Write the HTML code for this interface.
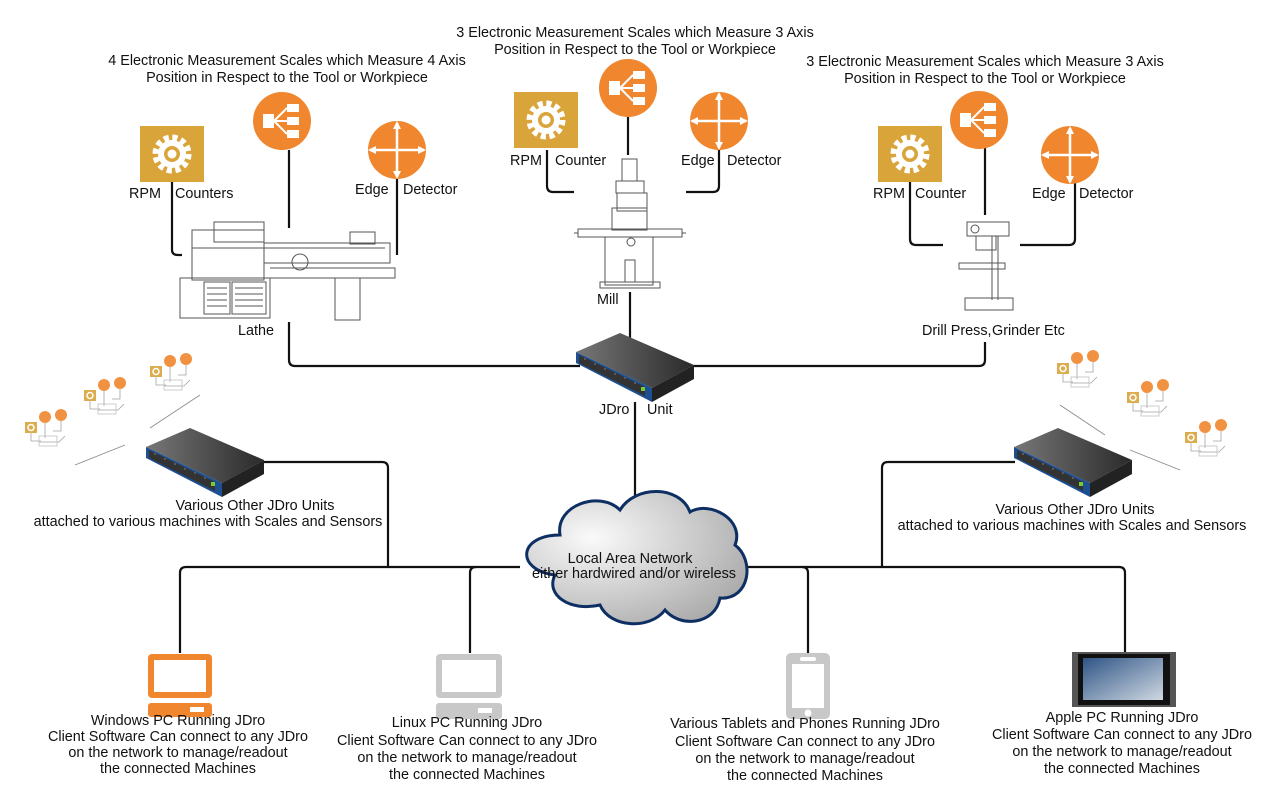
<!DOCTYPE html>
<html><head><meta charset="utf-8"><style>
html,body{margin:0;padding:0;background:#fff;}
svg{display:block;}
text{font-family:"Liberation Sans",Arial,sans-serif;font-size:14.4px;fill:#111;}
</style></head><body>
<svg width="1280" height="800" viewBox="0 0 1280 800" xmlns="http://www.w3.org/2000/svg">
<defs>
<linearGradient id="top" x1="0" y1="0" x2="1" y2="0"><stop offset="0" stop-color="#777"/><stop offset="1" stop-color="#2a2a2a"/></linearGradient>
<radialGradient id="cl" cx="0.3" cy="0.35" r="0.8"><stop offset="0" stop-color="#fafafa"/><stop offset="1" stop-color="#a9a9a9"/></radialGradient>
<linearGradient id="scr" x1="0" y1="0" x2="1" y2="1"><stop offset="0" stop-color="#2f5586"/><stop offset="1" stop-color="#cfd8e2"/></linearGradient>
<g id="gear">
<rect x="0" y="0" width="64" height="56" fill="#d9a43a"/>
<circle cx="32" cy="28" r="16" fill="none" stroke="#fff" stroke-width="7" stroke-dasharray="5 3.4"/>
<circle cx="32" cy="28" r="14" fill="#fff"/>
<circle cx="32" cy="28" r="8" fill="#d9a43a"/>
<circle cx="32" cy="28" r="4.5" fill="#fff"/>
</g>
<g id="scale">
<circle cx="0" cy="0" r="29" fill="#f0862e"/>
<rect x="-19" y="-7" width="11" height="14" fill="#fff"/>
<rect x="5" y="-17" width="12" height="8" fill="#fff"/>
<rect x="5" y="-4" width="12" height="8" fill="#fff"/>
<rect x="5" y="9" width="12" height="8" fill="#fff"/>
<path d="M-8 0 L5 -13 M-8 0 L5 0 M-8 0 L5 13" stroke="#fff" stroke-width="2"/>
</g>
<g id="edge">
<circle cx="0" cy="0" r="29" fill="#f0862e"/>
<path d="M0 -27 V27 M-27 0 H27" stroke="#fff" stroke-width="2.5"/>
<path d="M0 -29 l-4 8 h8z M0 29 l-4 -8 h8z M-29 0 l8 -4 v8z M29 0 l-8 -4 v8z" fill="#fff"/>
</g>
<g id="sw">
<polygon points="1,20 45,1 119,33 77,56" fill="url(#top)"/>
<polygon points="77,56 119,33 119,47 77,70" fill="#222"/>
<polygon points="1,20 77,56 77,70 1,31" fill="#1d4f93"/>
<polygon points="4,23 70,55 70,64 4,31" fill="#333"/>
<g fill="#666"><circle cx="10" cy="27" r="1"/><circle cx="20" cy="32" r="1"/><circle cx="30" cy="37" r="1"/><circle cx="40" cy="42" r="1"/><circle cx="50" cy="46" r="1"/><circle cx="60" cy="51" r="1"/></g>
<rect x="66" y="55" width="4" height="4" fill="#7c3"/>
</g>
<g id="mini">
<rect x="0" y="10" width="12" height="11" fill="#d9a43a"/><circle cx="6" cy="15.5" r="3" fill="none" stroke="#fff" stroke-width="1.5"/>
<circle cx="20" cy="5" r="6" fill="#f0862e"/><circle cx="36" cy="3" r="6" fill="#f0862e"/>
<path d="M6 21 v8 h10 M20 11 v15 M36 9 v10 h-8 M14 30 h20 l6 -6" stroke="#999" fill="none" stroke-width="0.8"/>
<rect x="14" y="24" width="18" height="10" fill="none" stroke="#bbb" stroke-width="0.8"/>
</g>
</defs>

<text x="287" y="65" text-anchor="middle">4 Electronic Measurement Scales which Measure 4 Axis</text>
<text x="287" y="82" text-anchor="middle">Position in Respect to the Tool or Workpiece</text>
<text x="635" y="37" text-anchor="middle">3 Electronic Measurement Scales which Measure 3 Axis</text>
<text x="635" y="54" text-anchor="middle">Position in Respect to the Tool or Workpiece</text>
<text x="985" y="66" text-anchor="middle">3 Electronic Measurement Scales which Measure 3 Axis</text>
<text x="985" y="83" text-anchor="middle">Position in Respect to the Tool or Workpiece</text>

<g stroke="#111" stroke-width="2.2" fill="none">
<path d="M172 182 V250 Q172 255 178 255 H182"/>
<path d="M289 150 V228"/>
<path d="M397 178 V255"/>
<path d="M289 322 V360 Q289 366 295 366 H580"/>
<path d="M547 150 V186 Q547 192 553 192 H574"/>
<path d="M628 117 V155"/>
<path d="M719 150 V186 Q719 192 713 192 H686"/>
<path d="M630 292 V342"/>
<path d="M635 402 V497"/>
<path d="M910 182 V239 Q910 245 916 245 H943"/>
<path d="M985 148 V215"/>
<path d="M1075 182 V239 Q1075 245 1069 245 H1020"/>
<path d="M694 366 H979 Q985 366 985 360 V342"/>
<path d="M262 462 H382 Q388 462 388 468 V567"/>
<path d="M1015 462 H888 Q882 462 882 468 V567"/>
<path d="M180 653 V573 Q180 567 186 567 H520"/>
<path d="M470 653 V573 Q470 567 476 567"/>
<path d="M742 567 H1119 Q1125 567 1125 573 V653"/>
<path d="M808 653 V573 Q808 567 802 567"/>
</g>

<use href="#gear" x="140" y="126"/>
<use href="#scale" x="282" y="121"/>
<use href="#edge" x="397" y="150"/>
<text x="129" y="198">RPM</text><text x="175" y="198">Counters</text>
<text x="355" y="194">Edge</text><text x="403" y="194">Detector</text>
<g stroke="#555" stroke-width="1" fill="none">
<rect x="192" y="230" width="72" height="50"/>
<rect x="214" y="222" width="50" height="20"/>
<rect x="264" y="243" width="126" height="20"/>
<path d="M192 248 H385"/>
<rect x="180" y="278" width="90" height="40"/>
<rect x="204" y="282" width="26" height="32"/><rect x="232" y="282" width="34" height="32"/>
<path d="M207 288h20M207 294h20M207 300h20M207 306h20M235 288h28M235 294h28M235 300h28M235 306h28"/>
<path d="M270 268 H395 V278 H270"/>
<rect x="335" y="278" width="25" height="42"/>
<circle cx="300" cy="262" r="8"/>
<rect x="350" y="232" width="25" height="12"/>
</g>
<text x="238" y="335">Lathe</text>

<use href="#gear" x="514" y="92"/>
<use href="#scale" x="628" y="88"/>
<use href="#edge" x="719" y="121"/>
<text x="510" y="165">RPM</text><text x="555" y="165">Counter</text>
<text x="681" y="165">Edge</text><text x="727" y="165">Detector</text>
<g stroke="#555" stroke-width="1" fill="none">
<rect x="622" y="159" width="15" height="22"/>
<rect x="616" y="181" width="28" height="12"/>
<rect x="617" y="193" width="30" height="18"/>
<rect x="612" y="208" width="35" height="22"/>
<rect x="578" y="229" width="104" height="8"/>
<path d="M578 233 h-4 M682 233 h4"/>
<rect x="605" y="237" width="48" height="48"/>
<circle cx="631" cy="242" r="4"/>
<rect x="625" y="260" width="10" height="22"/>
<rect x="600" y="282" width="60" height="6"/>
</g>
<text x="597" y="304">Mill</text>

<use href="#gear" x="878" y="126"/>
<use href="#scale" x="979" y="120"/>
<use href="#edge" x="1070" y="155"/>
<text x="873" y="198">RPM</text><text x="915" y="198">Counter</text>
<text x="1032" y="198">Edge</text><text x="1079" y="198">Detector</text>
<g stroke="#555" stroke-width="1" fill="none">
<rect x="967" y="222" width="42" height="14"/>
<circle cx="975" cy="229" r="4"/>
<rect x="976" y="236" width="20" height="14"/>
<path d="M992 236 V300 M998 236 V300"/>
<rect x="959" y="263" width="46" height="6"/>
<rect x="965" y="298" width="48" height="12"/>
</g>
<text x="922" y="335">Drill Press,</text><text x="992" y="335">Grinder Etc</text>

<use href="#sw" x="575" y="332"/>
<use href="#sw" x="145" y="427"/>
<use href="#sw" x="1013" y="427"/>
<text x="599" y="414">JDro</text><text x="647" y="414">Unit</text>

<g opacity="0.9">
<use href="#mini" x="25" y="412"/>
<use href="#mini" x="84" y="380"/>
<use href="#mini" x="150" y="356"/>
<use href="#mini" x="1057" y="353"/>
<use href="#mini" x="1127" y="382"/>
<use href="#mini" x="1185" y="422"/>
</g>
<g stroke="#888" stroke-width="0.8" fill="none">
<path d="M75 465 L125 445 M150 428 L200 395 M1060 405 L1105 435 M1130 450 L1180 470"/>
</g>

<text x="255" y="510" text-anchor="middle">Various Other JDro Units</text>
<text x="208" y="526" text-anchor="middle">attached to various machines with Scales and Sensors</text>
<text x="1075" y="514" text-anchor="middle">Various Other JDro Units</text>
<text x="1072" y="530" text-anchor="middle">attached to various machines with Scales and Sensors</text>

<path d="M560 535 C555 505 600 490 620 510 C635 485 680 485 690 512 C710 500 745 520 735 545 C755 560 750 600 720 598 C715 625 680 628 665 610 C650 630 610 628 600 605 C570 612 545 595 555 575 C515 570 518 535 560 535 Z" fill="url(#cl)" stroke="#0e2f63" stroke-width="3"/>
<text x="630" y="563" text-anchor="middle">Local Area Network</text>
<text x="634" y="578" text-anchor="middle">either hardwired and/or wireless</text>

<rect x="148" y="654" width="64" height="44" rx="4" fill="#f0862e"/>
<rect x="154" y="660" width="52" height="32" fill="#fff"/>
<rect x="148" y="703" width="64" height="14" rx="3" fill="#f0862e"/>
<rect x="190" y="707" width="14" height="5" fill="#fff"/>
<rect x="436" y="654" width="66" height="44" rx="4" fill="#c8c8c8"/>
<rect x="442" y="660" width="54" height="32" fill="#fff"/>
<rect x="436" y="703" width="66" height="16" rx="3" fill="#c8c8c8"/>
<rect x="478" y="708" width="14" height="5" fill="#fff"/>
<rect x="786" y="653" width="44" height="66" rx="5" fill="#c8c8c8"/>
<rect x="792" y="664" width="32" height="44" fill="#fff"/>
<rect x="800" y="657" width="16" height="4" rx="2" fill="#fff"/>
<circle cx="808" cy="713" r="3.5" fill="#fff"/>
<rect x="1072" y="652" width="104" height="55" fill="#555"/>
<rect x="1078" y="654" width="92" height="51" fill="#111"/>
<rect x="1083" y="658" width="80" height="42" fill="url(#scr)"/>

<text x="178" y="725" text-anchor="middle">Windows PC Running JDro</text>
<text x="178" y="741" text-anchor="middle">Client Software Can connect to any JDro</text>
<text x="178" y="757" text-anchor="middle">on the network to manage/readout</text>
<text x="178" y="773" text-anchor="middle">the connected Machines</text>
<text x="467" y="727" text-anchor="middle">Linux PC Running JDro</text>
<text x="467" y="745" text-anchor="middle">Client Software Can connect to any JDro</text>
<text x="467" y="762" text-anchor="middle">on the network to manage/readout</text>
<text x="467" y="779" text-anchor="middle">the connected Machines</text>
<text x="805" y="728" text-anchor="middle">Various Tablets and Phones Running JDro</text>
<text x="805" y="746" text-anchor="middle">Client Software Can connect to any JDro</text>
<text x="805" y="763" text-anchor="middle">on the network to manage/readout</text>
<text x="805" y="780" text-anchor="middle">the connected Machines</text>
<text x="1122" y="722" text-anchor="middle">Apple PC Running JDro</text>
<text x="1122" y="739" text-anchor="middle">Client Software Can connect to any JDro</text>
<text x="1122" y="756" text-anchor="middle">on the network to manage/readout</text>
<text x="1122" y="773" text-anchor="middle">the connected Machines</text>
</svg>
</body></html>
